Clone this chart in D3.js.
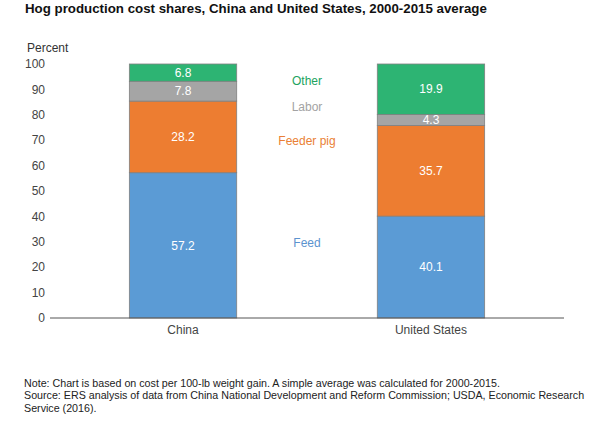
<!DOCTYPE html>
<html>
<head>
<meta charset="utf-8">
<script src="https://cdn.jsdelivr.net/npm/d3@7"></script>
<style>
body { margin: 0; background: #fff; }
text { font-family: "Liberation Sans", Arial, sans-serif; }
</style>
</head>
<body>
<script>
// chart data
var countries = ["China", "United States"];
var components = ["Feed", "Feeder pig", "Labor", "Other"];
var feed = [57.2, 40.1];
var feederPig = [28.2, 35.7];
var labor = [7.8, 4.3];
var other = [6.8, 19.9];
var yTicks = [0, 10, 20, 30, 40, 50, 60, 70, 80, 90, 100];
var colors = ["#5b9bd5", "#ed7d31", "#a5a5a5", "#2db473"];
var labelColors = ["#5b93cf", "#ea7f35", "#a3a3a3", "#22a35e"];
var legendAt = [29.8, 69.8, 83.3, 93.2]; // label heights in percent units

var W = 592, H = 424;

var svg = d3.select("body")
	.append("svg")
	.attr("width", W)
	.attr("height", H);

var y = d3.scaleLinear()
	.domain([0, 100])
	.range([318, 64]);

var x = d3.scaleBand()
	.domain(countries)
	.range([50, 564])
	.paddingInner(0.567)
	.paddingOuter(0.32);

// build stack rows
var rows = countries.map(function(c, i) {
	return {country: c, "Feed": feed[i], "Feeder pig": feederPig[i], "Labor": labor[i], "Other": other[i]};
});
var series = d3.stack().keys(components)(rows);

//title
svg.append("text")
	.attr("x", 25)
	.attr("y", 13)
	.style("font-size", "13.3px")
	.style("font-weight", "bold")
	.attr("fill", "#111")
	.text("Hog production cost shares, China and United States, 2000-2015 average");

svg.append("text")
	.attr("x", 27)
	.attr("y", 52)
	.style("font-size", "12px")
	.attr("fill", "#333")
	.text("Percent");

// y tick labels
svg.append("g")
	.selectAll("text")
	.data(yTicks)
	.enter()
	.append("text")
	.attr("x", 45)
	.attr("y", function(d) { return y(d); })
	.attr("dy", "0.35em")
	.attr("text-anchor", "end")
	.style("font-size", "12px")
	.attr("fill", "#444")
	.text(function(d) { return d; });

// bars
var layer = svg.append("g")
	.selectAll("g")
	.data(series)
	.enter()
	.append("g")
	.attr("fill", function(d, i) { return colors[i]; });

layer.selectAll("rect")
	.data(function(d) { return d; })
	.enter()
	.append("rect")
	.attr("x", function(d) { return x(d.data.country); })
	.attr("y", function(d) { return y(d[1]); })
	.attr("width", x.bandwidth())
	.attr("height", function(d) { return y(d[0]) - y(d[1]); })
	.attr("stroke", "#808080")
	.attr("stroke-width", 0.8);

layer.selectAll("text")
	.data(function(d) { return d; })
	.enter()
	.append("text")
	.attr("x", function(d) { return x(d.data.country) + x.bandwidth() / 2; })
	.attr("y", function(d) { return y((d[0] + d[1]) / 2); })
	.attr("dy", "0.35em")
	.attr("text-anchor", "middle")
	.style("font-size", "12px")
	.attr("fill", "#fff")
	.text(function(d) { return (d[1] - d[0]).toFixed(1); });

// baseline
svg.append("line")
	.attr("x1", 50)
	.attr("x2", 564)
	.attr("y1", y(0))
	.attr("y2", y(0))
	.attr("stroke", "#555")
	.attr("stroke-width", 1);

// category labels
svg.append("g")
	.selectAll("text")
	.data(countries)
	.enter()
	.append("text")
	.attr("x", function(d) { return x(d) + x.bandwidth() / 2; })
	.attr("y", 334)
	.attr("text-anchor", "middle")
	.style("font-size", "12px")
	.attr("fill", "#444")
	.text(function(d) { return d; });

// legend labels between the bars
var midX = (x(countries[0]) + x(countries[1]) + x.bandwidth()) / 2;
svg.append("g")
	.selectAll("text")
	.data(components)
	.enter()
	.append("text")
	.attr("x", midX)
	.attr("y", function(d, i) { return y(legendAt[i]); })
	.attr("dy", "0.35em")
	.attr("text-anchor", "middle")
	.style("font-size", "12px")
	.attr("fill", function(d, i) { return labelColors[i]; })
	.text(function(d) { return d; });

// notes
var notes = [
	"Note: Chart is based on cost per 100-lb weight gain. A simple average was calculated for 2000-2015.",
	"Source: ERS analysis of data from China National Development and Reform Commission; USDA, Economic Research",
	"Service (2016)."
];
svg.append("g")
	.selectAll("text")
	.data(notes)
	.enter()
	.append("text")
	.attr("x", 24)
	.attr("y", function(d, i) { return 387 + i * 12.3; })
	.style("font-size", "10.7px")
	.attr("fill", "#222")
	.text(function(d) { return d; });
</script>
</body>
</html>
